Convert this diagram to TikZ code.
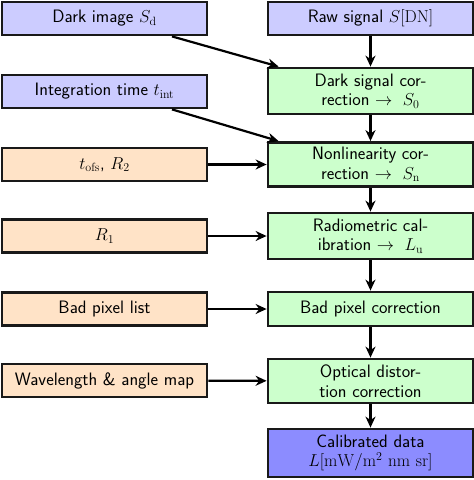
\documentclass[tikz,border=0pt]{standalone}
\usetikzlibrary{arrows.meta,calc}
\begin{document}
\begin{tikzpicture}[x=1pt,y=-1pt,
  box/.style={draw=black!90,line width=2.8pt,minimum width=205pt,inner sep=2pt,align=center,
    font=\sffamily\fontsize{18}{19.5}\selectfont},
  inbox/.style={box,fill=blue!20,minimum height=33pt},
  parbox/.style={box,fill=orange!22,minimum height=33pt},
  procbox/.style={box,fill=green!20},
  outbox/.style={box,fill=blue!45},
  arr/.style={line width=2.2pt,-{Stealth[length=11pt,width=10pt]}}]
\useasboundingbox (0,0) rectangle (474,480);
\node[inbox] (dark) at (104.5,18.5) {Dark image $S_\mathrm{d}$};
\node[inbox] (raw) at (370.5,18.5) {Raw signal $S[\mathrm{DN}]$};
\node[inbox] (tint) at (104.5,91.5) {Integration time $t_\mathrm{int}$};
\node[procbox,minimum height=46pt] (dsig) at (370.5,91) {Dark signal cor-\\rection $\rightarrow~S_0$};
\node[parbox] (tofs) at (104.5,164.5) {$t_\mathrm{ofs}$, $R_2$};
\node[procbox,minimum height=44pt] (nonlin) at (370.5,164.5) {Nonlinearity cor-\\rection $\rightarrow~S_\mathrm{n}$};
\node[parbox] (r1) at (104.5,236) {$R_1$};
\node[procbox,minimum height=46pt] (radio) at (370.5,236) {Radiometric cal-\\ibration $\rightarrow~L_\mathrm{u}$};
\node[parbox] (bpl) at (104.5,309) {Bad pixel list};
\node[procbox,minimum height=34pt] (bpc) at (370.5,309) {Bad pixel correction};
\node[parbox] (wl) at (104.5,380.5) {Wavelength \& angle map};
\node[procbox,minimum height=44pt] (opt) at (370.5,381) {Optical distor-\\tion correction};
\node[outbox,minimum height=48pt] (cal) at (370.5,453) {Calibrated data\\$L[\mathrm{mW/m^2\ nm\ sr}]$};
\draw[arr] ($(dark.south)+(67.5,0)$) -- ($(dsig.north west)+(12,0)$);
\draw[arr] ($(tint.south)+(67.5,0)$) -- ($(nonlin.north west)+(12,0)$);
\draw[arr] (raw) -- (dsig);
\draw[arr] (dsig) -- (nonlin);
\draw[arr] (nonlin) -- (radio);
\draw[arr] (radio) -- (bpc);
\draw[arr] (bpc) -- (opt);
\draw[arr] (opt) -- (cal);
\draw[arr] (tofs) -- (nonlin);
\draw[arr] (r1) -- (radio);
\draw[arr] (bpl) -- (bpc);
\draw[arr] (wl) -- (opt);
\end{tikzpicture}
\end{document}
